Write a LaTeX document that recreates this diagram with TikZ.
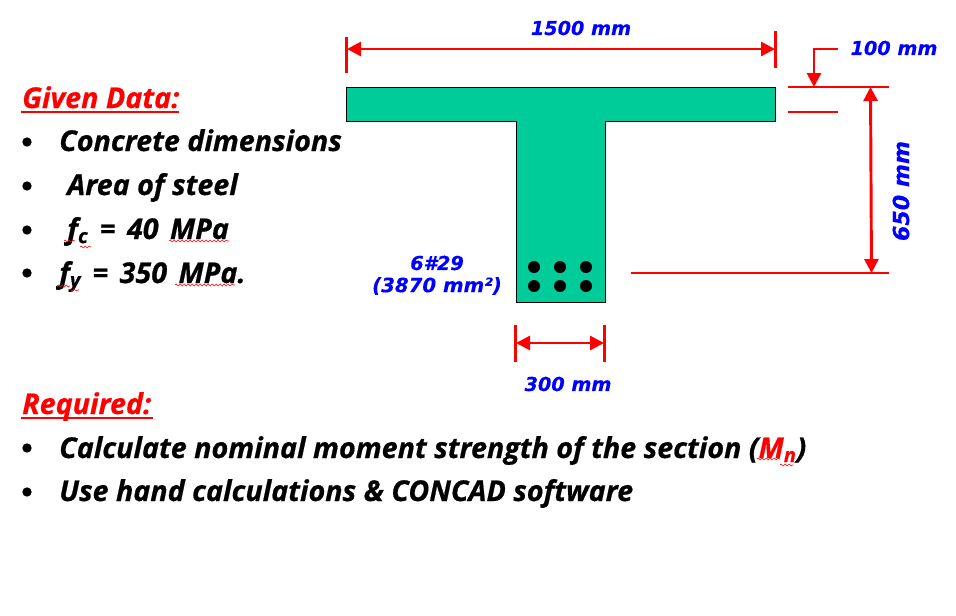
\documentclass[tikz,border=0pt]{standalone}
\usepackage{fontspec}
\usetikzlibrary{arrows.meta,decorations.pathmorphing}
\setmainfont{Open Sans}[BoldItalicFeatures={FakeBold=0.6}]
\newfontfamily\dimfont{DejaVu Sans}[BoldItalicFeatures={FakeBold=0.3}]
\definecolor{slabgreen}{HTML}{00CC99}
\tikzset{
	headtext/.style={anchor=base west, inner sep=0, text=red, font=\fontsize{21.5}{24}\selectfont\bfseries\itshape},
	itemtext/.style={anchor=base west, inner sep=0, text=black, font=\fontsize{21.5}{24}\selectfont\bfseries\itshape},
	dimtext/.style={inner sep=0, text=blue, font=\fontsize{14.4}{17}\dimfont\bfseries\itshape},
	dot/.style={circle, fill=black, inner sep=0, minimum size=9pt},
	itemdot/.style={circle, fill=black, inner sep=0, minimum size=7pt},
	redline/.style={draw=red, line width=2.2pt},
	dimarrow/.style={redline, {Triangle[length=10.5pt,width=10.5pt]}-{Triangle[length=10.5pt,width=10.5pt]}},
	headline/.style={draw=red, line width=2pt},
	wavy/.style={draw=red, line width=0.4pt, decorate, decoration={snake, amplitude=0.7pt, segment length=3pt}},
}
\begin{document}
\begin{tikzpicture}[x=0.75pt, y=-0.75pt]
\useasboundingbox (0,0) rectangle (956,615);
\path[draw=black, line width=0.7pt, fill=slabgreen] (346,87) -- (775,87) -- (775,121.5) -- (605,121.5) -- (605,302) -- (516.5,302) -- (516.5,121.5) -- (346,121.5) -- cycle;
\foreach \x/\n in {534/a,560/b,586/c} {
	\node[dot] (top-\n) at (\x,267) {};
	\node[dot] (bot-\n) at (\x,286) {};
}
\coordinate (w1) at (347,49);
\coordinate (w2) at (775,49);
\coordinate (w1u) at (346.5,37);
\coordinate (w1d) at (346.5,73);
\coordinate (w2u) at (775.5,31);
\coordinate (w2d) at (775.5,68);
\coordinate (t0) at (838,49);
\coordinate (t1) at (814,49);
\coordinate (t2) at (814,87);
\coordinate (l1) at (788,87);
\coordinate (l2) at (889,87);
\coordinate (m1) at (788,112);
\coordinate (m2) at (838,112);
\coordinate (b1) at (631,273);
\coordinate (b2) at (889,273);
\coordinate (h1) at (870.5,87);
\coordinate (h2) at (871.5,273);
\coordinate (s1) at (516,343);
\coordinate (s2) at (604,343);
\coordinate (s1u) at (515.5,325);
\coordinate (s1d) at (515.5,362);
\coordinate (s2u) at (604.5,325);
\coordinate (s2d) at (604.5,362);
\path[redline] (w1u) -- (w1d);
\path[redline] (w2u) -- (w2d);
\path[dimarrow] (w1) -- (w2);
\path[redline, -{Triangle[length=10.5pt,width=10.5pt]}] (t0) -- (t1) -- (t2);
\path[redline] (l1) -- (l2);
\path[redline] (m1) -- (m2);
\path[redline] (b1) -- (b2);
\path[dimarrow] (h1) -- (h2);
\path[redline] (s1u) -- (s1d);
\path[redline] (s2u) -- (s2d);
\path[dimarrow] (s1) -- (s2);
\node[dimtext] (width) at (581,28) {1500 mm};
\node[dimtext] (flange) at (894,48) {100 mm};
\node[dimtext, rotate=90, font=\fontsize{16.6}{19}\dimfont\bfseries\itshape] (depth) at (901,191) {650 mm};
\node[dimtext] (bars) at (437,263) {6\#29};
\node[dimtext, font=\fontsize{14.8}{17}\dimfont\bfseries\itshape] (area) at (437,286) {(3870 mm²)};
\node[dimtext] (web) at (568,384) {300 mm};
\node[headtext] (given) at (22,108) {Given Data:};
\path[headline] (21,112) -- (179,112);
\node[headtext] (req) at (22,414) {Required:};
\path[headline] (21,418) -- (153,418);
\foreach \y/\n in {142/a,186/b,230/c,273/d,448/e,492/f}
	\node[itemdot] (bullet-\n) at (27,\y) {};
\node[itemtext] (conc) at (59,151) {Concrete dimensions};
\node[itemtext] (steel) at (67,195) {Area of steel};
\node[itemtext] (fc) at (67,239) {f\textsubscript{c}\hspace{3pt} =\hspace{3pt} 40\hspace{3pt} MPa};
\node[itemtext] (fy) at (59,283) {f\textsubscript{y}\hspace{3pt} =\hspace{3pt} 350\hspace{3pt} MPa.};
\node[itemtext] (calc) at (59,458) {Calculate nominal moment strength of the section (\textcolor{red}{M\textsubscript{n}})};
\node[itemtext] (use) at (59,501) {Use hand calculations \& CONCAD software};
\path[wavy] (64,241) -- (75,241);
\path[wavy] (80,247) -- (91,247);
\path[wavy] (169,241) -- (229,241);
\path[wavy] (57,286) -- (70,286);
\path[wavy] (69,290) -- (79,290);
\path[wavy] (175,285) -- (235,285);
\path[wavy] (757,459) -- (780,459);
\path[wavy] (780,465) -- (793,465);
\end{tikzpicture}
\end{document}
